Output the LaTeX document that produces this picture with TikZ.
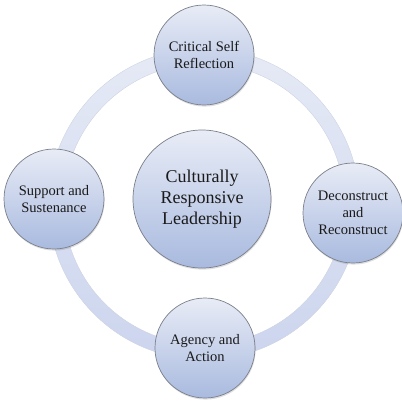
\documentclass[tikz,border=0pt]{standalone}
\usepackage{fontspec}
\setmainfont{Liberation Serif}
\usetikzlibrary{shadows}
\definecolor{ringtop}{HTML}{E6EAF6}
\definecolor{ringbot}{HTML}{CCD5EE}
\definecolor{ringedge}{HTML}{CDD3E2}
\definecolor{ctop}{HTML}{E8ECF6}
\definecolor{cbot}{HTML}{A9BADF}
\definecolor{cedge}{HTML}{7A7F8A}
\definecolor{txt}{HTML}{1A1A1A}
\tikzset{
  bubble/.style={circle, draw=cedge, line width=0.7pt, top color=ctop, bottom color=cbot,
    align=center, inner sep=0pt, text=txt,
    drop shadow={opacity=0.25, shadow xshift=0.6pt, shadow yshift=-1.6pt}},
  small/.style={bubble, minimum size=100pt, font=\fontsize{14.5}{17}\selectfont},
  big/.style={bubble, minimum size=138pt, font=\fontsize{18}{21}\selectfont}
}
\begin{document}
\begin{tikzpicture}[x=1pt,y=-1pt]
\useasboundingbox (0,0) rectangle (402,402);
\shade[even odd rule, top color=ringtop, bottom color=ringbot] (204,204) circle (155.5) (204,204) circle (140.5);
\draw[ringedge, line width=0.4pt] (204,204) circle (155.5) (204,204) circle (140.5);
\node[small] (top) at (204,55) {Critical Self\\Reflection};
\node[small] (left) at (54,199) {Support and\\Sustenance};
\node[small] (right) at (353,213) {Deconstruct\\and\\Reconstruct};
\node[small] (bottom) at (205,348) {Agency and\\Action};
\node[big] (center) at (202,199) {Culturally\\Responsive\\Leadership};
\end{tikzpicture}
\end{document}
